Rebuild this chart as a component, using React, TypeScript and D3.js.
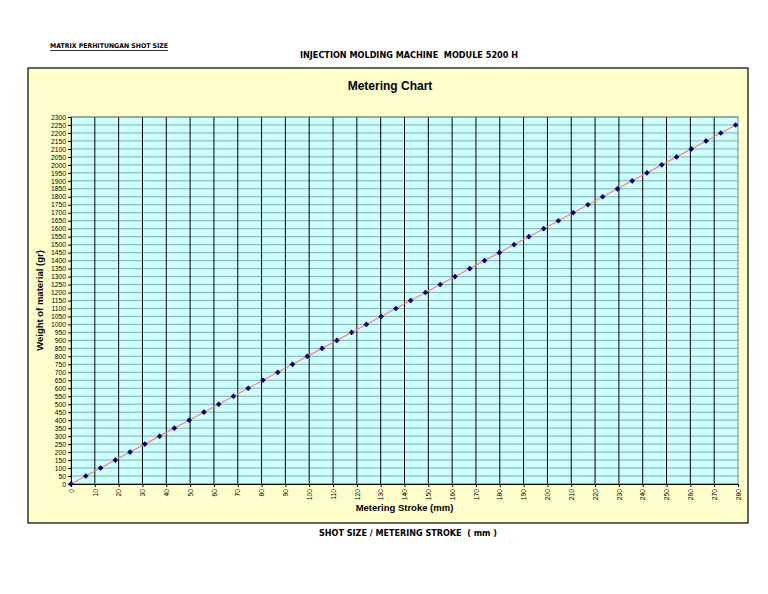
import { useEffect, useRef } from 'react';
import * as d3 from 'd3';

// metering stroke (mm) vs weight of material (gr)
const strokeMm = [
  0, 6.2, 12.4, 18.6, 24.8, 31.0, 37.2, 43.4, 49.6, 55.8, 62.0, 68.2, 74.4, 80.6, 86.8, 93.0,
  99.2, 105.4, 111.6, 117.8, 124.0, 130.2, 136.4, 142.6, 148.8, 155.0, 161.2, 167.4, 173.6,
  179.8, 186.0, 192.2, 198.4, 204.6, 210.8, 217.0, 223.2, 229.4, 235.6, 241.8, 248.0, 254.2,
  260.4, 266.6, 272.8, 279.0,
];
const weightGr = [
  0, 50, 100, 150, 200, 250, 300, 350, 400, 450, 500, 550, 600, 650, 700, 750, 800, 850, 900,
  950, 1000, 1050, 1100, 1150, 1200, 1250, 1300, 1350, 1400, 1450, 1500, 1550, 1600, 1650, 1700,
  1750, 1800, 1850, 1900, 1950, 2000, 2050, 2100, 2150, 2200, 2250,
];
const xTicks = d3.range(0, 281, 10);
const yTicks = d3.range(0, 2301, 50);

const sheetTitle = 'MATRIX PERHITUNGAN SHOT SIZE';
const machineTitle = 'INJECTION MOLDING MACHINE  MODULE 5200 H';
const chartTitle = 'Metering Chart';
const xTitle = 'Metering Stroke (mm)';
const yTitle = 'Weight of material (gr)';
const footer = 'SHOT SIZE / METERING STROKE  ( mm )';

export default function App() {
  const ref = useRef<SVGSVGElement>(null);

  useEffect(() => {
    if (!ref.current) return;
    const W = 768, H = 594;
    const plot = { left: 71, right: 738, top: 117, bottom: 484 };
    const box = { left: 28, right: 748, top: 68, bottom: 523 };

    const x = d3.scaleLinear().domain([0, 280]).range([plot.left, plot.right]);
    const y = d3.scaleLinear().domain([0, 2300]).range([plot.bottom, plot.top]);

    const svg = d3.select(ref.current);
    svg.selectAll('*').remove();
    svg.attr('width', W).attr('height', H).attr('viewBox', `0 0 ${W} ${H}`);

    const bold = 'Tahoma, "DejaVu Sans", sans-serif';
    const arial = '"Liberation Sans", Arial, sans-serif';

    // page headings
    svg.append('text')
      .attr('x', 50).attr('y', 48)
      .attr('font-family', bold).attr('font-weight', 'bold').attr('font-size', 6.5)
      .attr('textLength', 118).attr('lengthAdjust', 'spacingAndGlyphs')
      .attr('fill', '#000').text(sheetTitle);
    svg.append('line')
      .attr('x1', 50).attr('x2', 168).attr('y1', 50.5).attr('y2', 50.5)
      .attr('stroke', '#000').attr('stroke-width', 0.8);
    svg.append('text')
      .attr('x', 300).attr('y', 58)
      .attr('font-family', bold).attr('font-weight', 'bold').attr('font-size', 8.5)
      .attr('textLength', 218).attr('lengthAdjust', 'spacingAndGlyphs')
      .attr('xml:space', 'preserve')
      .attr('fill', '#000').text(machineTitle);

    // chart area
    svg.append('rect')
      .attr('x', box.left).attr('y', box.top)
      .attr('width', box.right - box.left).attr('height', box.bottom - box.top)
      .attr('fill', '#ffffcc').attr('stroke', '#000').attr('stroke-width', 1.2);

    svg.append('text')
      .attr('x', (box.left + box.right) / 2 + 2).attr('y', 90)
      .attr('text-anchor', 'middle')
      .attr('font-family', arial).attr('font-weight', 'bold').attr('font-size', 12)
      .attr('fill', '#000').text(chartTitle);

    svg.append('rect')
      .attr('x', plot.left).attr('y', plot.top)
      .attr('width', plot.right - plot.left).attr('height', plot.bottom - plot.top)
      .attr('fill', '#ccffff');

    const g = svg.append('g');

    g.selectAll('line.h')
      .data(yTicks)
      .enter()
      .append('line')
      .attr('class', 'h')
      .attr('x1', plot.left).attr('x2', plot.right)
      .attr('y1', d => y(d)).attr('y2', d => y(d))
      .attr('stroke', '#86aaaa').attr('stroke-width', 1);

    g.selectAll('line.v')
      .data(xTicks.filter(d => d > 0 && d < 280))
      .enter()
      .append('line')
      .attr('class', 'v')
      .attr('y1', plot.top).attr('y2', plot.bottom)
      .attr('x1', d => x(d)).attr('x2', d => x(d))
      .attr('stroke', '#000').attr('stroke-width', 1);

    svg.append('rect')
      .attr('x', plot.left).attr('y', plot.top)
      .attr('width', plot.right - plot.left).attr('height', plot.bottom - plot.top)
      .attr('fill', 'none').attr('stroke', '#808080').attr('stroke-width', 1);

    // axes
    const fmt = d3.format('d');
    const yAxis = d3.axisLeft(y).tickValues(yTicks).tickFormat(fmt).tickSize(3).tickPadding(2).tickSizeOuter(0);
    const ya = svg.append('g').attr('transform', `translate(${plot.left},0)`).call(yAxis);
    ya.select('.domain').attr('stroke', '#000');
    ya.selectAll('.tick line').attr('stroke', '#000');
    ya.selectAll('.tick text')
      .attr('font-family', arial).attr('font-size', 6.8).attr('fill', '#000');

    const xAxis = d3.axisBottom(x).tickValues(xTicks).tickFormat(fmt).tickSize(3).tickSizeOuter(0);
    const xa = svg.append('g').attr('transform', `translate(0,${plot.bottom})`).call(xAxis);
    xa.select('.domain').attr('stroke', '#000');
    xa.selectAll('.tick line').attr('stroke', '#000');
    xa.selectAll('.tick text')
      .attr('font-family', arial).attr('font-size', 6.8).attr('fill', '#000')
      .attr('text-anchor', 'end')
      .attr('dy', '0.32em')
      .attr('transform', 'translate(0,5) rotate(-90)')
      .attr('y', 0).attr('x', 0);

    // series
    const pts = strokeMm.map((s, i) => ({ s, w: weightGr[i] }));
    const line = d3.line<{ s: number; w: number }>().x(d => x(d.s)).y(d => y(d.w));
    svg.append('path')
      .attr('d', line(pts)!)
      .attr('fill', 'none').attr('stroke', '#ff7f7f').attr('stroke-width', 1.2);

    const sym = d3.symbol().type(d3.symbolSquare).size(16);
    svg.selectAll('path.pt')
      .data(pts)
      .enter()
      .append('path')
      .attr('class', 'pt')
      .attr('d', sym()!)
      .attr('transform', d => `translate(${x(d.s)},${y(d.w)}) rotate(45)`)
      .attr('fill', '#000080');

    // axis titles
    svg.append('text')
      .attr('x', (plot.left + plot.right) / 2).attr('y', 511)
      .attr('text-anchor', 'middle')
      .attr('font-family', arial).attr('font-weight', 'bold').attr('font-size', 9.5)
      .attr('fill', '#000').text(xTitle);
    svg.append('text')
      .attr('transform', `translate(43,${(plot.top + plot.bottom) / 2}) rotate(-90)`)
      .attr('text-anchor', 'middle')
      .attr('font-family', arial).attr('font-weight', 'bold').attr('font-size', 9.5)
      .attr('fill', '#000').text(yTitle);

    svg.append('text')
      .attr('x', 319).attr('y', 536)
      .attr('font-family', bold).attr('font-weight', 'bold').attr('font-size', 8.5)
      .attr('textLength', 178).attr('lengthAdjust', 'spacingAndGlyphs')
      .attr('xml:space', 'preserve')
      .attr('fill', '#000').text(footer);
  }, []);

  return <svg ref={ref} style={{ display: 'block', position: 'absolute', left: 0, top: 0 }} />;
}
